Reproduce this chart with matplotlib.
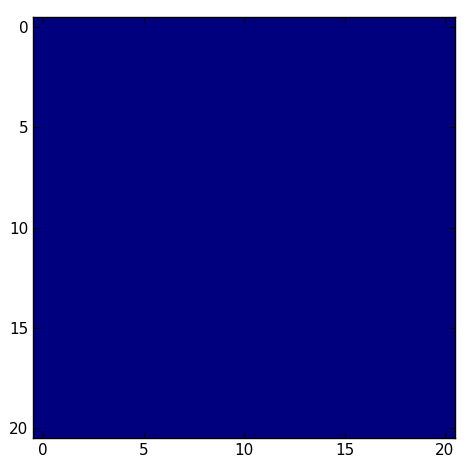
import matplotlib
matplotlib.use("Agg")
import matplotlib.pyplot as plt
import numpy as np

n_rows = 21
n_cols = 21
values = np.zeros((n_rows, n_cols))
ticks = [0, 5, 10, 15, 20]

fig = plt.figure(figsize=(4.74, 4.74), dpi=100)
ax = fig.add_axes([0.070, 0.076, 0.890, 0.888])
ax.imshow(values, cmap="jet", vmin=0, vmax=1, interpolation="nearest", aspect="auto")
ax.set_xticks(ticks)
ax.set_yticks(ticks)
ax.tick_params(direction="in", top=True, right=True, length=4, labelsize=11)
for s in ax.spines.values():
    s.set_linewidth(1)
fig.savefig("out.png", dpi=100)
